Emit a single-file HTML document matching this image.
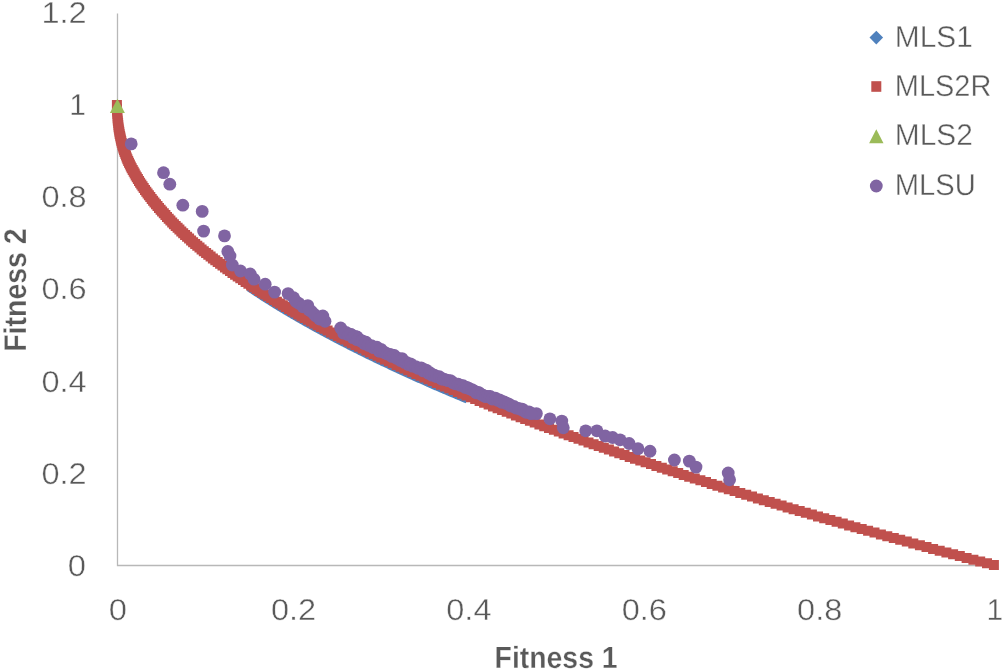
<!DOCTYPE html>
<html lang="en"><head><meta charset="utf-8"><title>Fitness chart</title>
<style>
html,body{margin:0;padding:0;background:#fff;}
body{width:1004px;height:670px;overflow:hidden;}
svg{display:block;}
text{font-family:"Liberation Sans",sans-serif;fill:#595959;text-rendering:geometricPrecision;}
text{stroke:#fff;stroke-width:0.4px;}
.b{font-weight:bold;stroke-width:0.3px;}
</style></head><body>
<svg width="1004" height="670" viewBox="0 0 1004 670">
<rect width="1004" height="670" fill="#fff"/>
<path d="M117.5 13.5V565.5H994.5" fill="none" stroke="#b8b8b8" stroke-width="1.3"/>
<path d="M250.3 286.0 L251.4 286.8 L252.5 287.5 L253.6 288.2 L254.7 289.0 L255.8 289.7 L256.9 290.4 L258.0 291.1 L259.0 291.8 L260.1 292.5 L261.2 293.2 L262.3 294.0 L263.4 294.7 L264.5 295.4 L265.6 296.1 L266.7 296.7 L267.8 297.4 L268.9 298.1 L270.0 298.8 L271.1 299.5 L272.2 300.2 L273.3 300.9 L274.3 301.5 L275.4 302.2 L276.5 302.9 L277.6 303.6 L278.7 304.2 L279.8 304.9 L280.9 305.6 L282.0 306.2 L283.1 306.9 L284.2 307.5 L285.3 308.2 L286.4 308.9 L287.5 309.5 L288.6 310.2 L289.7 310.8 L290.7 311.4 L291.8 312.1 L292.9 312.7 L294.0 313.4 L295.1 314.0 L296.2 314.6 L297.3 315.3 L298.4 315.9 L299.5 316.5 L300.6 317.2 L301.7 317.8 L302.8 318.4 L303.9 319.0 L305.0 319.7 L306.0 320.3 L307.1 320.9 L308.2 321.5 L309.3 322.1 L310.4 322.7 L311.5 323.3 L312.6 323.9 L313.7 324.5 L314.8 325.2 L315.9 325.8 L317.0 326.4 L318.1 327.0 L319.2 327.6 L320.3 328.2 L321.3 328.7 L322.4 329.3 L323.5 329.9 L324.6 330.5 L325.7 331.1 L326.8 331.7 L327.9 332.3 L329.0 332.9 L330.1 333.4 L331.2 334.0 L332.3 334.6 L333.4 335.2 L334.5 335.8 L335.6 336.3 L336.6 336.9 L337.7 337.5 L338.8 338.1 L339.9 338.6 L341.0 339.2 L342.1 339.8 L343.2 340.3 L344.3 340.9 L345.4 341.4 L346.5 342.0 L347.6 342.6 L348.7 343.1 L349.8 343.7 L350.9 344.2 L351.9 344.8 L353.0 345.3 L354.1 345.9 L355.2 346.4 L356.3 347.0 L357.4 347.5 L358.5 348.1 L359.6 348.6 L360.7 349.2 L361.8 349.7 L362.9 350.3 L364.0 350.8 L365.1 351.3 L366.2 351.9 L367.2 352.4 L368.3 353.0 L369.4 353.5 L370.5 354.0 L371.6 354.6 L372.7 355.1 L373.8 355.6 L374.9 356.1 L376.0 356.7 L377.1 357.2 L378.2 357.7 L379.3 358.3 L380.4 358.8 L381.5 359.3 L382.6 359.8 L383.6 360.3 L384.7 360.9 L385.8 361.4 L386.9 361.9 L388.0 362.4 L389.1 362.9 L390.2 363.4 L391.3 364.0 L392.4 364.5 L393.5 365.0 L394.6 365.5 L395.7 366.0 L396.8 366.5 L397.9 367.0 L398.9 367.5 L400.0 368.0 L401.1 368.5 L402.2 369.0 L403.3 369.5 L404.4 370.0 L405.5 370.5 L406.6 371.0 L407.7 371.5 L408.8 372.0 L409.9 372.5 L411.0 373.0 L412.1 373.5 L413.2 374.0 L414.2 374.5 L415.3 375.0 L416.4 375.5 L417.5 376.0 L418.6 376.5 L419.7 377.0 L420.8 377.4 L421.9 377.9 L423.0 378.4 L424.1 378.9 L425.2 379.4 L426.3 379.9 L427.4 380.3 L428.5 380.8 L429.5 381.3 L430.6 381.8 L431.7 382.3 L432.8 382.7 L433.9 383.2 L435.0 383.7 L436.1 384.2 L437.2 384.7 L438.3 385.1 L439.4 385.6 L440.5 386.1 L441.6 386.5 L442.7 387.0 L443.8 387.5 L444.8 388.0 L445.9 388.4 L447.0 388.9 L448.1 389.4 L449.2 389.8 L450.3 390.3 L451.4 390.8 L452.5 391.2 L453.6 391.7 L454.7 392.1 L455.8 392.6 L456.9 393.1 L458.0 393.5 L459.1 394.0 L460.1 394.4 L461.2 394.9 L462.3 395.4 L463.4 395.8 L464.5 396.3 L465.6 396.7 L466.7 397.2 L467.8 397.6" fill="none" stroke="#4F81BD" stroke-width="12" stroke-linejoin="round"/>
<path d="M988.9 560.1h10v10h-10zM982.0 558.3h10v10h-10zM975.2 556.5h10v10h-10zM968.4 554.7h10v10h-10zM961.6 552.9h10v10h-10zM954.8 551.1h10v10h-10zM948.1 549.3h10v10h-10zM941.4 547.5h10v10h-10zM934.7 545.7h10v10h-10zM928.1 543.9h10v10h-10zM921.5 542.1h10v10h-10zM914.9 540.3h10v10h-10zM908.3 538.5h10v10h-10zM901.8 536.6h10v10h-10zM895.2 534.8h10v10h-10zM888.8 533.0h10v10h-10zM882.3 531.2h10v10h-10zM875.9 529.4h10v10h-10zM869.5 527.6h10v10h-10zM863.1 525.8h10v10h-10zM856.7 524.0h10v10h-10zM850.4 522.2h10v10h-10zM844.1 520.4h10v10h-10zM837.8 518.6h10v10h-10zM831.6 516.8h10v10h-10zM825.4 515.0h10v10h-10zM819.2 513.2h10v10h-10zM813.0 511.4h10v10h-10zM806.9 509.6h10v10h-10zM800.8 507.8h10v10h-10zM794.7 506.0h10v10h-10zM788.6 504.2h10v10h-10zM782.6 502.4h10v10h-10zM776.6 500.6h10v10h-10zM770.6 498.8h10v10h-10zM764.7 497.0h10v10h-10zM758.8 495.2h10v10h-10zM752.9 493.4h10v10h-10zM747.0 491.6h10v10h-10zM741.2 489.7h10v10h-10zM735.3 487.9h10v10h-10zM729.6 486.1h10v10h-10zM723.8 484.3h10v10h-10zM718.1 482.5h10v10h-10zM712.4 480.7h10v10h-10zM706.7 478.9h10v10h-10zM701.0 477.1h10v10h-10zM695.4 475.3h10v10h-10zM689.8 473.5h10v10h-10zM684.2 471.7h10v10h-10zM678.7 469.9h10v10h-10zM673.2 468.1h10v10h-10zM667.7 466.3h10v10h-10zM662.2 464.5h10v10h-10zM656.8 462.7h10v10h-10zM651.4 460.9h10v10h-10zM646.0 459.1h10v10h-10zM640.6 457.3h10v10h-10zM635.3 455.5h10v10h-10zM630.0 453.7h10v10h-10zM624.7 451.9h10v10h-10zM619.5 450.1h10v10h-10zM614.3 448.3h10v10h-10zM609.1 446.5h10v10h-10zM603.9 444.6h10v10h-10zM598.8 442.8h10v10h-10zM593.7 441.0h10v10h-10zM588.6 439.2h10v10h-10zM583.5 437.4h10v10h-10zM578.5 435.6h10v10h-10zM573.5 433.8h10v10h-10zM568.5 432.0h10v10h-10zM563.6 430.2h10v10h-10zM558.6 428.4h10v10h-10zM553.8 426.6h10v10h-10zM548.9 424.8h10v10h-10zM544.0 423.0h10v10h-10zM539.2 421.2h10v10h-10zM534.4 419.4h10v10h-10zM529.7 417.6h10v10h-10zM524.9 415.8h10v10h-10zM520.2 414.0h10v10h-10zM515.6 412.2h10v10h-10zM510.9 410.4h10v10h-10zM506.3 408.6h10v10h-10zM501.7 406.8h10v10h-10zM497.1 405.0h10v10h-10zM492.6 403.2h10v10h-10zM488.0 401.4h10v10h-10zM483.6 399.6h10v10h-10zM479.1 397.7h10v10h-10zM474.6 395.9h10v10h-10zM470.2 394.1h10v10h-10zM465.9 392.3h10v10h-10zM461.5 390.5h10v10h-10zM457.2 388.7h10v10h-10zM452.9 386.9h10v10h-10zM448.6 385.1h10v10h-10zM444.3 383.3h10v10h-10zM440.1 381.5h10v10h-10zM435.9 379.7h10v10h-10zM431.8 377.9h10v10h-10zM427.6 376.1h10v10h-10zM423.5 374.3h10v10h-10zM419.4 372.5h10v10h-10zM415.4 370.7h10v10h-10zM411.3 368.9h10v10h-10zM407.3 367.1h10v10h-10zM403.3 365.3h10v10h-10zM399.4 363.5h10v10h-10zM395.5 361.7h10v10h-10zM391.6 359.9h10v10h-10zM387.7 358.1h10v10h-10zM383.9 356.3h10v10h-10zM380.0 354.5h10v10h-10zM376.2 352.6h10v10h-10zM372.5 350.8h10v10h-10zM368.7 349.0h10v10h-10zM365.0 347.2h10v10h-10zM361.4 345.4h10v10h-10zM357.7 343.6h10v10h-10zM354.1 341.8h10v10h-10zM350.5 340.0h10v10h-10zM346.9 338.2h10v10h-10zM343.4 336.4h10v10h-10zM339.8 334.6h10v10h-10zM336.3 332.8h10v10h-10zM332.9 331.0h10v10h-10zM329.4 329.2h10v10h-10zM326.0 327.4h10v10h-10zM322.6 325.6h10v10h-10zM319.3 323.8h10v10h-10zM315.9 322.0h10v10h-10zM312.6 320.2h10v10h-10zM309.4 318.4h10v10h-10zM306.1 316.6h10v10h-10zM302.9 314.8h10v10h-10zM299.7 313.0h10v10h-10zM296.5 311.2h10v10h-10zM293.3 309.4h10v10h-10zM290.2 307.6h10v10h-10zM287.1 305.7h10v10h-10zM284.0 303.9h10v10h-10zM280.9 302.1h10v10h-10zM277.9 300.3h10v10h-10zM274.9 298.5h10v10h-10zM271.9 296.7h10v10h-10zM268.9 294.9h10v10h-10zM266.0 293.1h10v10h-10zM263.0 291.3h10v10h-10zM260.2 289.5h10v10h-10zM257.3 287.7h10v10h-10zM254.4 285.9h10v10h-10zM251.6 284.1h10v10h-10zM248.8 282.3h10v10h-10zM246.1 280.5h10v10h-10zM243.4 278.7h10v10h-10zM240.6 276.9h10v10h-10zM238.0 275.1h10v10h-10zM235.3 273.3h10v10h-10zM232.7 271.5h10v10h-10zM230.1 269.7h10v10h-10zM227.5 267.9h10v10h-10zM225.0 266.1h10v10h-10zM222.4 264.3h10v10h-10zM220.0 262.5h10v10h-10zM217.5 260.6h10v10h-10zM215.1 258.8h10v10h-10zM212.7 257.0h10v10h-10zM210.3 255.2h10v10h-10zM207.9 253.4h10v10h-10zM205.6 251.6h10v10h-10zM203.3 249.8h10v10h-10zM201.1 248.0h10v10h-10zM198.8 246.2h10v10h-10zM196.6 244.4h10v10h-10zM194.5 242.6h10v10h-10zM192.3 240.8h10v10h-10zM190.2 239.0h10v10h-10zM188.1 237.2h10v10h-10zM186.1 235.4h10v10h-10zM184.1 233.6h10v10h-10zM182.1 231.8h10v10h-10zM180.1 230.0h10v10h-10zM178.2 228.2h10v10h-10zM176.3 226.4h10v10h-10zM174.4 224.6h10v10h-10zM172.6 222.8h10v10h-10zM170.7 221.0h10v10h-10zM168.9 219.2h10v10h-10zM167.2 217.4h10v10h-10zM165.4 215.6h10v10h-10zM163.7 213.7h10v10h-10zM162.0 211.9h10v10h-10zM160.4 210.1h10v10h-10zM158.8 208.3h10v10h-10zM157.1 206.5h10v10h-10zM155.6 204.7h10v10h-10zM154.0 202.9h10v10h-10zM152.5 201.1h10v10h-10zM151.0 199.3h10v10h-10zM149.5 197.5h10v10h-10zM148.1 195.7h10v10h-10zM146.7 193.9h10v10h-10zM145.3 192.1h10v10h-10zM143.9 190.3h10v10h-10zM142.6 188.5h10v10h-10zM141.3 186.7h10v10h-10zM140.0 184.9h10v10h-10zM138.7 183.1h10v10h-10zM137.5 181.3h10v10h-10zM136.3 179.5h10v10h-10zM135.1 177.7h10v10h-10zM134.0 175.9h10v10h-10zM132.9 174.1h10v10h-10zM131.8 172.3h10v10h-10zM130.7 170.5h10v10h-10zM129.7 168.6h10v10h-10zM128.7 166.8h10v10h-10zM127.7 165.0h10v10h-10zM126.7 163.2h10v10h-10zM125.8 161.4h10v10h-10zM124.9 159.6h10v10h-10zM124.0 157.8h10v10h-10zM123.2 156.0h10v10h-10zM122.4 154.2h10v10h-10zM121.7 152.4h10v10h-10zM121.0 150.6h10v10h-10zM120.3 148.8h10v10h-10zM119.6 147.0h10v10h-10zM119.0 145.2h10v10h-10zM118.4 143.4h10v10h-10zM117.8 141.6h10v10h-10zM117.3 139.8h10v10h-10zM116.8 138.0h10v10h-10zM116.3 136.2h10v10h-10zM115.9 134.4h10v10h-10zM115.5 132.6h10v10h-10zM115.1 130.8h10v10h-10zM114.7 129.0h10v10h-10zM114.4 127.2h10v10h-10zM114.1 125.4h10v10h-10zM113.8 123.6h10v10h-10zM113.5 121.7h10v10h-10zM113.3 119.9h10v10h-10zM113.1 118.1h10v10h-10zM112.9 116.3h10v10h-10zM112.7 114.5h10v10h-10zM112.5 112.7h10v10h-10zM112.4 110.9h10v10h-10zM112.2 109.1h10v10h-10zM112.1 107.3h10v10h-10zM112.0 105.5h10v10h-10zM112.0 103.7h10v10h-10zM111.9 101.9h10v10h-10zM111.9 100.1h10v10h-10z" fill="#C0504D"/>
<path d="M117.4 98.8L124.9 112.9L109.9 112.9Z" fill="#9BBB59"/>
<g fill="#8064A2"><circle cx="131.2" cy="143.9" r="6.4"/><circle cx="163.5" cy="172.7" r="6.4"/><circle cx="169.8" cy="184.2" r="6.4"/><circle cx="182.8" cy="205.2" r="6.4"/><circle cx="202.2" cy="211.4" r="6.4"/><circle cx="203.6" cy="231.1" r="6.4"/><circle cx="224.5" cy="235.9" r="6.4"/><circle cx="227.8" cy="251.5" r="6.4"/><circle cx="230.0" cy="256.0" r="6.4"/><circle cx="232.3" cy="265.0" r="6.4"/><circle cx="240.5" cy="271.0" r="6.4"/><circle cx="250.2" cy="274.0" r="6.4"/><circle cx="254.0" cy="279.2" r="6.4"/><circle cx="265.2" cy="284.2" r="6.4"/><circle cx="274.6" cy="292.1" r="6.4"/><circle cx="288.1" cy="293.6" r="6.4"/><circle cx="293.6" cy="297.7" r="6.4"/><circle cx="298.8" cy="303.3" r="6.4"/><circle cx="307.8" cy="305.6" r="6.4"/><circle cx="311.5" cy="311.5" r="6.4"/><circle cx="316.0" cy="316.0" r="6.4"/><circle cx="322.8" cy="316.0" r="6.4"/><circle cx="325.0" cy="321.3" r="6.4"/><circle cx="340.7" cy="328.0" r="6.4"/><circle cx="343.7" cy="333.2" r="6.4"/><circle cx="351.1" cy="334.7" r="6.4"/><circle cx="357.1" cy="337.0" r="6.4"/><circle cx="364.6" cy="342.2" r="6.4"/><circle cx="372.0" cy="346.7" r="6.4"/><circle cx="379.5" cy="351.1" r="6.4"/><circle cx="391.5" cy="354.9" r="6.4"/><circle cx="402.0" cy="358.6" r="6.4"/><circle cx="296.0" cy="301.5" r="6.4"/><circle cx="303.0" cy="306.8" r="6.4"/><circle cx="309.0" cy="310.0" r="6.4"/><circle cx="314.5" cy="314.5" r="6.4"/><circle cx="319.5" cy="319.0" r="6.4"/><circle cx="522.2" cy="409.1" r="6.4"/><circle cx="536.4" cy="413.6" r="6.4"/><circle cx="549.9" cy="418.8" r="6.4"/><circle cx="561.8" cy="421.1" r="6.4"/><circle cx="563.3" cy="427.8" r="6.4"/><circle cx="585.7" cy="430.8" r="6.4"/><circle cx="596.9" cy="430.8" r="6.4"/><circle cx="605.2" cy="436.0" r="6.4"/><circle cx="612.6" cy="437.5" r="6.4"/><circle cx="620.1" cy="439.8" r="6.4"/><circle cx="629.1" cy="443.5" r="6.4"/><circle cx="638.0" cy="448.7" r="6.4"/><circle cx="650.0" cy="451.2" r="6.4"/><circle cx="674.4" cy="460.0" r="6.4"/><circle cx="689.3" cy="461.1" r="6.4"/><circle cx="696.0" cy="467.1" r="6.4"/><circle cx="728.2" cy="473.0" r="6.4"/><circle cx="729.6" cy="479.8" r="6.4"/><circle cx="346.0" cy="332.3" r="6.4"/><circle cx="348.2" cy="334.7" r="6.4"/><circle cx="350.8" cy="334.3" r="6.4"/><circle cx="353.0" cy="337.6" r="6.4"/><circle cx="355.0" cy="336.4" r="6.4"/><circle cx="357.2" cy="339.7" r="6.4"/><circle cx="358.6" cy="339.0" r="6.4"/><circle cx="360.8" cy="341.0" r="6.4"/><circle cx="362.3" cy="340.8" r="6.4"/><circle cx="364.5" cy="343.7" r="6.4"/><circle cx="366.0" cy="342.2" r="6.4"/><circle cx="368.2" cy="345.3" r="6.4"/><circle cx="371.4" cy="345.6" r="6.4"/><circle cx="373.6" cy="347.7" r="6.4"/><circle cx="376.9" cy="347.2" r="6.4"/><circle cx="379.1" cy="350.9" r="6.4"/><circle cx="381.0" cy="349.3" r="6.4"/><circle cx="383.2" cy="352.0" r="6.4"/><circle cx="385.1" cy="352.6" r="6.4"/><circle cx="387.3" cy="354.0" r="6.4"/><circle cx="389.7" cy="354.5" r="6.4"/><circle cx="391.9" cy="356.4" r="6.4"/><circle cx="394.3" cy="355.5" r="6.4"/><circle cx="396.5" cy="358.2" r="6.4"/><circle cx="398.3" cy="358.5" r="6.4"/><circle cx="400.5" cy="360.5" r="6.4"/><circle cx="402.4" cy="360.2" r="6.4"/><circle cx="404.6" cy="362.4" r="6.4"/><circle cx="406.5" cy="362.5" r="6.4"/><circle cx="408.7" cy="364.6" r="6.4"/><circle cx="410.5" cy="363.9" r="6.4"/><circle cx="412.7" cy="366.2" r="6.4"/><circle cx="415.7" cy="366.6" r="6.4"/><circle cx="417.9" cy="368.3" r="6.4"/><circle cx="421.2" cy="367.8" r="6.4"/><circle cx="423.4" cy="370.9" r="6.4"/><circle cx="426.2" cy="370.1" r="6.4"/><circle cx="428.4" cy="373.2" r="6.4"/><circle cx="429.8" cy="372.7" r="6.4"/><circle cx="432.0" cy="375.1" r="6.4"/><circle cx="434.4" cy="375.2" r="6.4"/><circle cx="436.6" cy="376.6" r="6.4"/><circle cx="439.3" cy="376.7" r="6.4"/><circle cx="441.5" cy="379.0" r="6.4"/><circle cx="443.7" cy="379.1" r="6.4"/><circle cx="445.9" cy="379.8" r="6.4"/><circle cx="448.2" cy="380.7" r="6.4"/><circle cx="450.4" cy="380.6" r="6.4"/><circle cx="453.1" cy="382.7" r="6.4"/><circle cx="455.3" cy="383.8" r="6.4"/><circle cx="458.2" cy="384.2" r="6.4"/><circle cx="460.4" cy="385.3" r="6.4"/><circle cx="463.1" cy="385.7" r="6.4"/><circle cx="465.3" cy="387.4" r="6.4"/><circle cx="466.9" cy="387.5" r="6.4"/><circle cx="469.1" cy="388.5" r="6.4"/><circle cx="471.9" cy="389.6" r="6.4"/><circle cx="474.1" cy="390.8" r="6.4"/><circle cx="476.2" cy="392.8" r="6.4"/><circle cx="478.4" cy="392.4" r="6.4"/><circle cx="480.6" cy="394.0" r="6.4"/><circle cx="482.8" cy="395.1" r="6.4"/><circle cx="485.7" cy="396.7" r="6.4"/><circle cx="487.9" cy="396.5" r="6.4"/><circle cx="490.1" cy="396.4" r="6.4"/><circle cx="492.3" cy="399.0" r="6.4"/><circle cx="495.5" cy="398.2" r="6.4"/><circle cx="497.7" cy="400.3" r="6.4"/><circle cx="499.5" cy="399.9" r="6.4"/><circle cx="501.7" cy="402.3" r="6.4"/><circle cx="504.1" cy="401.9" r="6.4"/><circle cx="506.3" cy="403.5" r="6.4"/><circle cx="508.5" cy="403.8" r="6.4"/><circle cx="510.7" cy="405.9" r="6.4"/><circle cx="513.9" cy="406.5" r="6.4"/><circle cx="516.1" cy="408.0" r="6.4"/><circle cx="518.6" cy="408.3" r="6.4"/><circle cx="520.8" cy="409.3" r="6.4"/><circle cx="523.9" cy="410.6" r="6.4"/><circle cx="526.1" cy="412.3" r="6.4"/><circle cx="529.0" cy="411.8" r="6.4"/><circle cx="531.2" cy="413.7" r="6.4"/></g>
<text x="86.0" y="576.2" font-size="30" text-anchor="end" textLength="18.2" lengthAdjust="spacingAndGlyphs">0</text>
<text x="86.6" y="484.2" font-size="30" text-anchor="end" textLength="45.2" lengthAdjust="spacingAndGlyphs">0.2</text>
<text x="86.6" y="392.3" font-size="30" text-anchor="end" textLength="45.2" lengthAdjust="spacingAndGlyphs">0.4</text>
<text x="86.6" y="299.1" font-size="30" text-anchor="end" textLength="45.2" lengthAdjust="spacingAndGlyphs">0.6</text>
<text x="86.6" y="207.1" font-size="30" text-anchor="end" textLength="45.2" lengthAdjust="spacingAndGlyphs">0.8</text>
<text x="86.0" y="114.9" font-size="30" text-anchor="end">1</text>
<text x="86.6" y="23.0" font-size="30" text-anchor="end" textLength="45.2" lengthAdjust="spacingAndGlyphs">1.2</text>
<text x="117.8" y="619.6" font-size="30" text-anchor="middle" textLength="18.2" lengthAdjust="spacingAndGlyphs">0</text>
<text x="293.5" y="619.6" font-size="30" text-anchor="middle" textLength="45.2" lengthAdjust="spacingAndGlyphs">0.2</text>
<text x="468.9" y="619.6" font-size="30" text-anchor="middle" textLength="45.2" lengthAdjust="spacingAndGlyphs">0.4</text>
<text x="644.3" y="619.6" font-size="30" text-anchor="middle" textLength="45.2" lengthAdjust="spacingAndGlyphs">0.6</text>
<text x="819.7" y="619.6" font-size="30" text-anchor="middle" textLength="45.2" lengthAdjust="spacingAndGlyphs">0.8</text>
<text x="994.8" y="619.6" font-size="30" text-anchor="middle">1</text>
<text class="b" x="556.1" y="667.6" font-size="30.7" text-anchor="middle" textLength="123" lengthAdjust="spacingAndGlyphs">Fitness 1</text>
<text class="b" transform="translate(26.4 290.1) rotate(-90)" font-size="31.4" text-anchor="middle" textLength="123.4" lengthAdjust="spacingAndGlyphs">Fitness 2</text>
<path d="M876.3 30.8l6.8 6.8l-6.8 6.8l-6.8-6.8z" fill="#4F81BD"/>
<rect x="871.3" y="81.2" width="10" height="10.6" fill="#C0504D"/>
<path d="M876.3 129.3l7.2 14h-14.4z" fill="#9BBB59"/>
<circle cx="876.3" cy="186.0" r="6.4" fill="#8064A2"/>
<text x="894.8" y="47.3" font-size="30" textLength="78" lengthAdjust="spacingAndGlyphs">MLS1</text>
<text x="894.8" y="95.9" font-size="30" textLength="96.5" lengthAdjust="spacingAndGlyphs">MLS2R</text>
<text x="894.8" y="145.3" font-size="30" textLength="78" lengthAdjust="spacingAndGlyphs">MLS2</text>
<text x="894.8" y="195.0" font-size="30" textLength="81" lengthAdjust="spacingAndGlyphs">MLSU</text>
</svg>
</body></html>
